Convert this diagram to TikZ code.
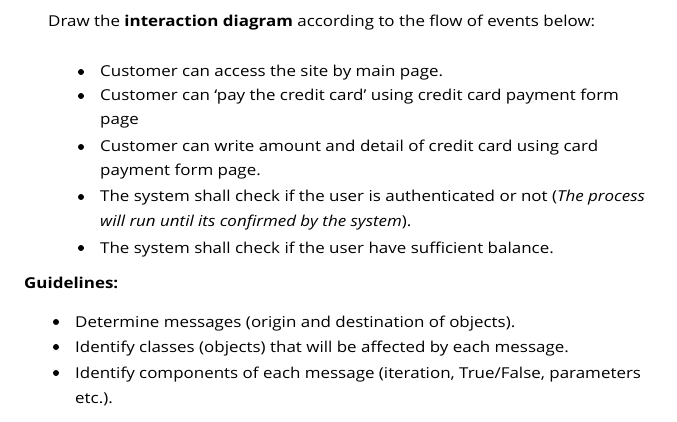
\documentclass[tikz,border=0pt]{standalone}
\usepackage{fontspec}
\setmainfont[FakeStretch=1.13]{Open Sans}
\begin{document}
\begin{tikzpicture}[x=1pt,y=-1pt,
  t/.style={anchor=base west,inner sep=0pt,font=\fontsize{15}{17}\selectfont},
  b/.style={circle,fill=black,inner sep=0pt,minimum size=6pt}]
\useasboundingbox[fill=white] (0,0) rectangle (677,422);
\node[t] (l0) at (48,27) {Draw the \textbf{interaction diagram} according to the flow of events below:};
\node[b] (b1) at (81,72) {}; \node[t] (a1) at (100,77) {Customer can access the site by main page.};
\node[b] (b2) at (81,96) {}; \node[t] (a2) at (100,101) {Customer can ‘pay the credit card’ using credit card payment form};
\node[t] (a2b) at (100,125) {page};
\node[b] (b3) at (81,147) {}; \node[t] (a3) at (100,152) {Customer can write amount and detail of credit card using card};
\node[t] (a3b) at (100,176) {payment form page.};
\node[b] (b4) at (81,197) {}; \node[t] (a4) at (100,202) {The system shall check if the user is authenticated or not (\textit{The process}};
\node[t] (a4b) at (100,226) {\textit{will run until its confirmed by the system}).};
\node[b] (b5) at (81,248) {}; \node[t] (a5) at (100,253) {The system shall check if the user have sufficient balance.};
\node[t] (g) at (24,288) {\textbf{Guidelines:}};
\node[b] (c1) at (56,322) {}; \node[t] (d1) at (75,327) {Determine messages (origin and destination of objects).};
\node[b] (c2) at (56,347) {}; \node[t] (d2) at (75,352) {Identify classes (objects) that will be affected by each message.};
\node[b] (c3) at (56,373) {}; \node[t] (d3) at (75,378) {Identify components of each message (iteration, True/False, parameters};
\node[t] (d3b) at (75,403) {etc.).};
\end{tikzpicture}
\end{document}
